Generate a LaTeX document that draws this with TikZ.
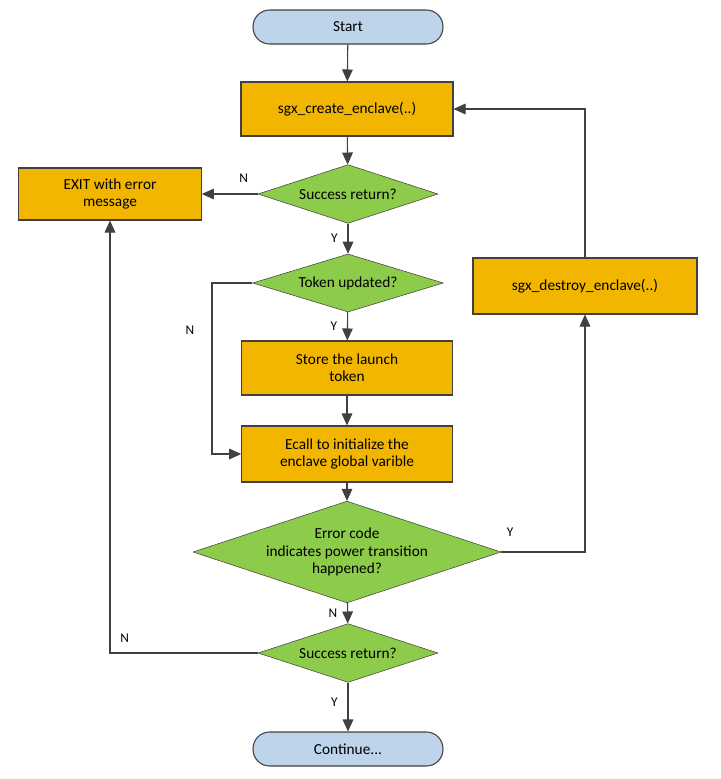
\documentclass[tikz,border=0pt]{standalone}
\usepackage{fontspec}
\setmainfont{Carlito}
\usetikzlibrary{shapes.geometric,arrows.meta}
\definecolor{boxor}{HTML}{F2B600}
\definecolor{decgr}{HTML}{8DCB4A}
\definecolor{termbl}{HTML}{BDD4EA}
\definecolor{linegr}{HTML}{404040}
\begin{document}
\begin{tikzpicture}[x=0.75pt,y=-0.75pt,font=\fontsize{11.5}{13}\selectfont,
    proc/.style={draw=linegr,thick,fill=boxor,minimum height=40.5pt,align=center,inner sep=1pt},
    dec/.style={draw=linegr,fill=decgr,diamond,aspect=3,inner sep=0pt,align=center},
    term/.style={draw=linegr,thick,fill=termbl,rounded corners=12.5pt,minimum width=142.5pt,minimum height=25.5pt},
    arr/.style={draw=linegr,thick,-{Triangle[length=9pt,width=8pt]}},
    lbl/.style={font=\fontsize{10}{12}\selectfont,text=black}]
    \useasboundingbox (0,0) rectangle (721,779);

    % nodes
    \node[term] (start) at (348,27) {Start};
    \node[proc,minimum width=159pt] (create) at (347,109) {sgx\_create\_enclave(..)};
    \node[dec,minimum width=135pt,minimum height=44pt] (succ1) at (348,194) {Success return?};
    \node[proc,minimum width=137pt,minimum height=39pt] (exit) at (110,194) {EXIT with error\\message};
    \node[dec,minimum width=143pt,minimum height=43.5pt] (token) at (348,283) {Token updated?};
    \node[proc,minimum width=158pt] (store) at (347,368) {Store the launch\\token};
    \node[proc,minimum width=158pt,minimum height=42pt] (ecall) at (347,454) {Ecall to initialize the\\enclave global varible};
    \node[dec,minimum width=231pt,minimum height=62pt] (errc) at (347,552) {Error code\\indicates power transition\\happened?};
    \node[dec,minimum width=135pt,minimum height=44pt] (succ2) at (348,653) {Success return?};
    \node[term] (cont) at (348,749) {Continue...};
    \node[proc,minimum width=168pt,minimum height=42pt] (destroy) at (585,286) {sgx\_destroy\_enclave(..)};

    % connectors
    \draw[arr] (start) -- (create);
    \draw[arr] (create) -- (succ1);
    \draw[arr] (succ1.west) -- (exit.east) node[lbl,pos=0.25,above=5pt] {N};
    \draw[arr] (succ1) -- (token) node[lbl,midway,left=4pt] {Y};
    \draw[arr] (token) -- (store) node[lbl,midway,left=4pt] {Y};
    \draw[arr] (store) -- (ecall);
    \draw[arr] (token.west) -| (212,454) -- (ecall.west);
    \node[lbl] at (190,330) {N};
    \draw[arr] (ecall) -- (errc);
    \draw[arr] (errc.east) -| (destroy.south) node[lbl,pos=0.1,above=8pt,xshift=-6pt] {Y};
    \draw[arr] (destroy.north) |- (create.east);
    \draw[arr] (errc) -- (succ2) node[lbl,midway,left=4pt] {N};
    \draw[arr] (succ2.west) -| (exit.south) node[lbl,pos=0.45,above=4pt] {N};
    \draw[arr] (succ2) -- (cont) node[lbl,pos=0.4,left=4pt] {Y};
\end{tikzpicture}
\end{document}
